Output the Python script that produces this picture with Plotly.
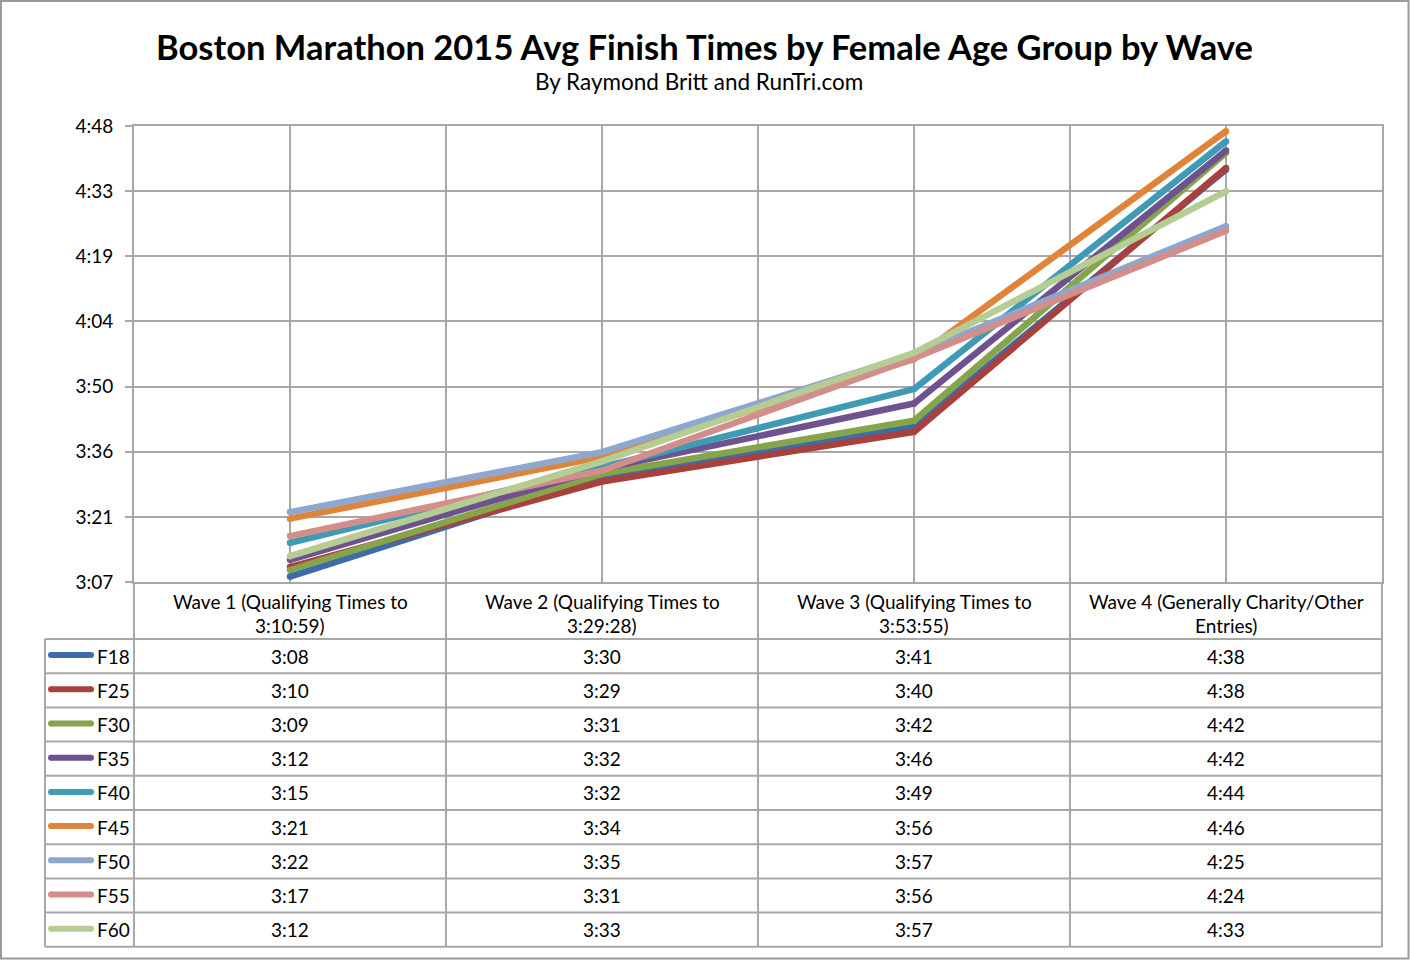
import math
import plotly.graph_objects as go

# ---------------- data ----------------
waves = ["Wave 1", "Wave 2", "Wave 3", "Wave 4"]
wave_labels = [
    ["Wave 1 (Qualifying Times to", "3:10:59)"],
    ["Wave 2 (Qualifying Times to", "3:29:28)"],
    ["Wave 3 (Qualifying Times to", "3:53:55)"],
    ["Wave 4 (Generally Charity/Other", "Entries)"],
]
groups = ["F18", "F25", "F30", "F35", "F40", "F45", "F50", "F55", "F60"]

# average finish time in minutes, per wave
F18 = [188.40, 210.50, 221.50, 278.40]
F25 = [190.50, 209.40, 220.40, 278.70]
F30 = [189.85, 211.10, 222.85, 282.10]
F35 = [192.10, 212.20, 226.65, 282.60]
F40 = [195.85, 212.60, 229.85, 284.60]
F45 = [201.20, 214.85, 236.50, 286.85]
F50 = [202.65, 215.90, 237.50, 265.85]
F55 = [197.35, 211.80, 236.65, 264.85]
F60 = [192.90, 213.85, 237.85, 273.55]
series = [F18, F25, F30, F35, F40, F45, F50, F55, F60]

y_tickvals = [187.2, 201.6, 216.0, 230.4, 244.8, 259.2, 273.6, 288.0]
y_ticktext = ["3:07", "3:21", "3:36", "3:50", "4:04", "4:19", "4:33", "4:48"]

colors = ["#3D6CAA", "#A8403E", "#86A44A", "#6E5290", "#3F9AB5",
          "#E0843A", "#8EA7CF", "#D38D8B", "#B5CD93"]

title = "Boston Marathon 2015 Avg Finish Times by Female Age Group by Wave"
subtitle = "By Raymond Britt and RunTri.com"


def fmt(m):
    t = int(math.floor(m + 1e-9))
    return f"{t // 60}:{t % 60:02d}"


# ---------------- geometry (pixels) ----------------
W, H = 1410, 960
PL, PR, PT, PB = 134, 1382, 126, 582          # plot area
PW, PH = PR - PL, PB - PT
ROW_TOP = 639
ROW_H = 34.2
LEFT_COL = 45
FONT = "Lato"
GRID = "#A8A8A8"
TFS = 19   # table / tick font size


def px(xp):
    return (xp - PL) / PW


def py(yp):
    return (PB - yp) / PH


xs = list(range(len(waves)))

fig = go.Figure()
for name, vals, c in zip(groups, series, colors):
    fig.add_trace(go.Scatter(
        x=xs, y=vals, name=name, mode="lines+markers",
        line=dict(color=c, width=6.5),
        marker=dict(color=c, size=6.5, line=dict(width=0)),
        showlegend=False, cliponaxis=False,
    ))

shapes = []
annotations = []

# table grid: vertical lines
for xp in [PL, PL + PW * 0.25, PL + PW * 0.5, PL + PW * 0.75, PR]:
    shapes.append(dict(type="line", xref="paper", yref="paper",
                       x0=px(xp), x1=px(xp), y0=py(PB), y1=py(ROW_TOP + 9 * ROW_H),
                       line=dict(color=GRID, width=2)))
shapes.append(dict(type="line", xref="paper", yref="paper",
                   x0=px(LEFT_COL), x1=px(LEFT_COL), y0=py(ROW_TOP), y1=py(ROW_TOP + 9 * ROW_H),
                   line=dict(color=GRID, width=2)))
# horizontal lines
for k in range(len(groups) + 1):
    yp = ROW_TOP + k * ROW_H
    shapes.append(dict(type="line", xref="paper", yref="paper",
                       x0=px(LEFT_COL), x1=px(PR), y0=py(yp), y1=py(yp),
                       line=dict(color=GRID, width=2)))

# outer border of the figure
shapes.append(dict(type="rect", xref="paper", yref="paper",
                   x0=px(1), x1=px(W - 1.5), y0=py(1), y1=py(H - 1.5),
                   line=dict(color="#9A9A9A", width=2), layer="below"))

# header row text
for i, (l1, l2) in enumerate(wave_labels):
    for txt, yp in [(l1, 601), (l2, 625)]:
        annotations.append(dict(x=i, xref="x", y=py(yp), yref="paper",
                                text=txt, showarrow=False, xanchor="center", yanchor="middle",
                                font=dict(family=FONT, size=TFS, color="#000")))

# data rows
for r, (name, vals, c) in enumerate(zip(groups, series, colors)):
    yc = ROW_TOP + ROW_H * (r + 0.5)
    # legend key
    shapes.append(dict(type="line", xref="paper", yref="paper",
                       x0=px(51), x1=px(91), y0=py(yc - 1), y1=py(yc - 1),
                       line=dict(color=c, width=6)))
    for xe in (51, 91):
        shapes.append(dict(type="circle", xref="paper", yref="paper",
                           xsizemode="pixel", ysizemode="pixel",
                           xanchor=px(xe), yanchor=py(yc - 1),
                           x0=-3, x1=3, y0=-3, y1=3,
                           fillcolor=c, line=dict(width=0)))
    annotations.append(dict(x=px(95), xref="paper", y=py(yc), yref="paper",
                            text=name, showarrow=False, xanchor="left", yanchor="middle",
                            font=dict(family=FONT, size=TFS, color="#000")))
    for i, v in enumerate(vals):
        annotations.append(dict(x=i, xref="x", y=py(yc), yref="paper",
                                text=fmt(v), showarrow=False, xanchor="center", yanchor="middle",
                                font=dict(family=FONT, size=TFS, color="#000")))

# titles
annotations.append(dict(x=px(W / 2 - 1), xref="paper", y=py(47), yref="paper",
                        text="<b>" + title + "</b>", showarrow=False,
                        xanchor="center", yanchor="middle",
                        font=dict(family=FONT, size=34.5, color="#000")))
annotations.append(dict(x=px(W / 2 - 6), xref="paper", y=py(82), yref="paper",
                        text=subtitle, showarrow=False,
                        xanchor="center", yanchor="middle",
                        font=dict(family=FONT, size=22.5, color="#000")))

fig.update_layout(
    width=W, height=H,
    margin=dict(l=PL, r=W - PR, t=PT, b=H - PB, pad=0),
    paper_bgcolor="white", plot_bgcolor="white",
    shapes=shapes, annotations=annotations,
    xaxis=dict(range=[-0.5, 3.5], tickvals=[-0.5, 0, 0.5, 1, 1.5, 2, 2.5, 3, 3.5],
               showticklabels=False, ticks="", showgrid=True, gridcolor=GRID, gridwidth=2,
               showline=True, linecolor=GRID, linewidth=2, mirror=True, zeroline=False,
               fixedrange=True),
    yaxis=dict(range=[187.2, 288.0], tickvals=y_tickvals, ticktext=y_ticktext,
               showgrid=True, gridcolor=GRID, gridwidth=2, ticks="outside", ticklen=7,
               tickwidth=2, tickcolor=GRID, showline=True, linecolor=GRID, linewidth=2,
               mirror=True, zeroline=False, ticklabelstandoff=8,
               tickfont=dict(family=FONT, size=TFS, color="#000"), fixedrange=True),
    font=dict(family=FONT, color="#000"),
)

fig.write_html("out.html", config={"displayModeBar": False},
               post_script="document.body.style.margin='0';document.body.style.overflow='hidden';")
